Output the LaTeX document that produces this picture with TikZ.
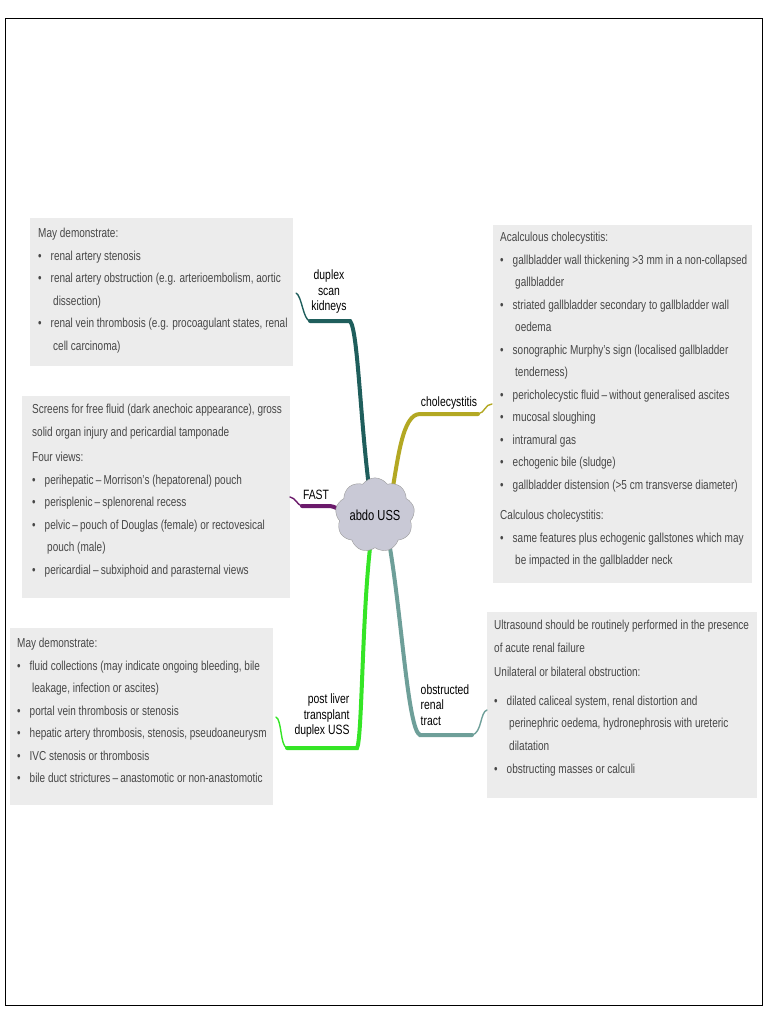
\documentclass[tikz,border=0pt]{standalone}
\usepackage{fontspec}
\setmainfont{Liberation Sans}[FakeStretch=0.77]
\usetikzlibrary{shapes.symbols}
\definecolor{boxg}{HTML}{ECECEC}
\definecolor{cduplex}{HTML}{1F5E5C}
\definecolor{cchol}{HTML}{B3A823}
\definecolor{cfast}{HTML}{6B1A6B}
\definecolor{cliver}{HTML}{35E526}
\definecolor{cobst}{HTML}{6E9F99}
\definecolor{cloudc}{HTML}{C9C9D6}
\newcommand{\bl}{\textbullet\hspace{9pt}}
\newcommand{\cn}{\hspace{15pt}}
\begin{document}
\begin{tikzpicture}[x=1pt,y=-1pt,
  box/.style={fill=none,draw=none,anchor=north west,align=left,inner sep=4pt,font=\fontsize{13}{22.5}\selectfont,text=black!72},
  lab/.style={font=\fontsize{13.5}{15.5}\selectfont,inner sep=1pt},
  thick branch/.style={line width=4pt,line cap=round},
  thin branch/.style={line width=1.4pt,line cap=round}]
\useasboundingbox (0,0) rectangle (768,1024);
\draw[line width=0.8pt] (5,18) rectangle (762,1005);
\fill[boxg] (30,218) rectangle (293,366);
\node[box] (b1) at (34,224) {May demonstrate:\\
\bl renal artery stenosis\\
\bl renal artery obstruction (e.g. arterioembolism, aortic\\
\cn dissection)\\
\bl renal vein thrombosis (e.g. procoagulant states, renal\\
\cn cell carcinoma)};
\fill[boxg] (22,396) rectangle (290,598);
\node[box] (b2) at (28,400) {Screens for free fluid (dark anechoic appearance), gross\\
solid organ injury and pericardial tamponade\\[3pt]
Four views:\\
\bl perihepatic\,--\,Morrison's (hepatorenal) pouch\\
\bl perisplenic\,--\,splenorenal recess\\
\bl pelvic\,--\,pouch of Douglas (female) or rectovesical\\
\cn pouch (male)\\
\bl pericardial\,--\,subxiphoid and parasternal views};
\fill[boxg] (493,225) rectangle (752,583);
\node[box] (b3) at (496,228) {Acalculous cholecystitis:\\
\bl gallbladder wall thickening >3 mm in a non-collapsed\\
\cn gallbladder\\
\bl striated gallbladder secondary to gallbladder wall\\
\cn oedema\\
\bl sonographic Murphy's sign (localised gallbladder\\
\cn tenderness)\\
\bl pericholecystic fluid\,--\,without generalised ascites\\
\bl mucosal sloughing\\
\bl intramural gas\\
\bl echogenic bile (sludge)\\
\bl gallbladder distension (>5 cm transverse diameter)\\[8pt]
Calculous cholecystitis:\\
\bl same features plus echogenic gallstones which may\\
\cn be impacted in the gallbladder neck};
\fill[boxg] (10,628) rectangle (273,805);
\node[box] (b4) at (13,634) {May demonstrate:\\
\bl fluid collections (may indicate ongoing bleeding, bile\\
\cn leakage, infection or ascites)\\
\bl portal vein thrombosis or stenosis\\
\bl hepatic artery thrombosis, stenosis, pseudoaneurysm\\
\bl IVC stenosis or thrombosis\\
\bl bile duct strictures\,--\,anastomotic or non-anastomotic};
\fill[boxg] (487,612) rectangle (757,798);
\node[box] (b5) at (490,616) {Ultrasound should be routinely performed in the presence\\
of acute renal failure\\[2pt]
Unilateral or bilateral obstruction:\\[6pt]
\bl dilated caliceal system, renal distortion and\\
\cn perinephric oedema, hydronephrosis with ureteric\\
\cn dilatation\\[1pt]
\bl obstructing masses or calculi};
% branches
\coordinate (c) at (375,515);
\coordinate (d1) at (350,321); \coordinate (d2) at (310,321); \coordinate (d3) at (296,293);
\draw[cduplex,thick branch] (370,495) .. controls (360,420) and (358,330) .. (d1) -- (d2);
\draw[cduplex,thin branch] (d2) .. controls (303,320) and (302,296) .. (d3);
\coordinate (h1) at (420,414); \coordinate (h2) at (478,414); \coordinate (h3) at (492,404);
\draw[cchol,thick branch] (391,498) .. controls (398,460) and (402,414) .. (h1) -- (h2);
\draw[cchol,thin branch] (h2) .. controls (485,413) and (485,404) .. (h3);
\coordinate (f1) at (328,506); \coordinate (f2) at (302,506); \coordinate (f3) at (290,497);
\draw[cfast,thick branch] (352,520) .. controls (340,510) and (336,506) .. (f1) -- (f2);
\draw[cfast,thin branch] (f2) .. controls (297,505) and (296,498) .. (f3);
\coordinate (l1) at (357,748); \coordinate (l2) at (287,748); \coordinate (l3) at (276,717);
\draw[cliver,thick branch] (370,548) .. controls (362,620) and (362,740) .. (l1) -- (l2);
\draw[cliver,thin branch] (l2) .. controls (280,746) and (282,720) .. (l3);
\coordinate (o1) at (420,735); \coordinate (o2) at (472,735); \coordinate (o3) at (487,710);
\draw[cobst,thick branch] (390,548) .. controls (402,620) and (408,730) .. (o1) -- (o2);
\draw[cobst,thin branch] (o2) .. controls (482,733) and (480,712) .. (o3);
\node[cloud,cloud puffs=9,cloud puff arc=110,aspect=1.1,fill=cloudc,draw=gray!80,minimum width=58pt,minimum height=52pt,inner sep=0pt,font=\fontsize{14.5}{16}\selectfont] (ctr) at (c) {abdo USS};
\node[lab,align=center] (ld) at (329,292) {duplex\\scan\\kidneys};
\node[lab] (lh) at (449,403) {cholecystitis};
\node[lab] (lf) at (316,495) {FAST};
\node[lab,align=right] (ll) at (322,716) {post liver\\transplant\\duplex USS};
\node[lab,align=left] (lo) at (445,705) {obstructed\\renal\\tract};
\end{tikzpicture}
\end{document}
